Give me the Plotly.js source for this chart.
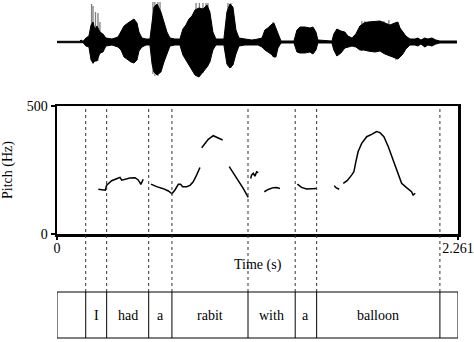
<!DOCTYPE html>
<html>
<head>
<meta charset="utf-8">
<script src="https://cdn.plot.ly/plotly-3.0.1.min.js"></script>
<style>html,body{margin:0;padding:0;background:#fff;}#chart{width:474px;height:342px;}</style>
</head>
<body>
<div id="chart"></div>
<script>
// ---- Data ----
const totalDuration = 2.261;
const pitchMax = 500;

// TextGrid word intervals
const boundaries = [0, 0.162, 0.280, 0.517, 0.648, 1.077, 1.343, 1.464, 2.159, 2.261];
const words = ["", "I", "had", "a", "rabit", "with", "a", "balloon", ""];

// Pitch contour (null = unvoiced gap)
const pitchTime = [
  0.233, 0.272, 0.280, 0.308, 0.336, 0.355, 0.365, 0.383, 0.411, 0.440, 0.458, 0.473, 0.486, null,
  0.530, 0.562, 0.599, 0.628, 0.648, 0.665, 0.684, 0.697, 0.708, 0.731, 0.750, 0.768, 0.787, 0.806, null,
  0.816, 0.834, 0.853, 0.881, 0.909, 0.934, null,
  0.971, 0.994, 1.022, 1.050, 1.078, null,
  1.092, 1.097, 1.107, 1.116, 1.126, 1.135, null,
  1.169, 1.191, 1.219, 1.238, 1.257, null,
  1.355, 1.379, 1.407, 1.436, 1.464, null,
  1.563, 1.573, 1.591, null,
  1.614, 1.636, 1.661, 1.674, 1.685, 1.698, 1.718, 1.746, 1.774, 1.802, 1.821, 1.843, 1.868, 1.896, 1.924, 1.943, 1.971, 1.999, 2.008, 2.020
];
const pitchHz = [
  175, 171, 191, 208, 216, 221, 210, 214, 219, 220, 211, 194, 214, null,
  195, 185, 177, 168, 157, 172, 194, 194, 185, 185, 190, 204, 230, 260, null,
  337, 354, 370, 384, 376, 367, null,
  263, 239, 211, 178, 143, null,
  217, 230, 237, 226, 243, 240, null,
  165, 174, 181, 182, 178, null,
  195, 182, 176, 177, 178, null,
  189, 181, 175, null,
  198, 208, 230, 243, 282, 322, 354, 380, 389, 400, 396, 380, 341, 289, 237, 198, 181, 165, 152, 159
];

// Waveform envelope (arbitrary amplitude units)
const waveTime = [
  0.000, 0.130, 0.135, 0.147, 0.163, 0.180, 0.192, 0.203, 0.214, 0.225, 0.242, 0.259, 0.276, 0.310, 0.344,
  0.361, 0.378, 0.400, 0.417, 0.434, 0.451, 0.462, 0.479, 0.502, 0.524, 0.536, 0.547, 0.564, 0.586, 0.603,
  0.620, 0.637, 0.665, 0.693, 0.710, 0.727, 0.744, 0.761, 0.778, 0.800, 0.823, 0.846, 0.862, 0.879, 0.896,
  0.941, 0.958, 0.975, 0.992, 1.009, 1.026, 1.060, 1.099, 1.133, 1.156, 1.172, 1.189, 1.206, 1.223, 1.234,
  1.246, 1.263, 1.336, 1.353, 1.370, 1.398, 1.426, 1.443, 1.460, 1.471, 1.550, 1.561, 1.578, 1.601, 1.623,
  1.640, 1.663, 1.685, 1.708, 1.731, 1.753, 1.793, 1.821, 1.849, 1.877, 1.905, 1.922, 1.934, 1.950, 1.967,
  1.990, 2.018, 2.035, 2.052, 2.074, 2.091, 2.114, 2.136, 2.159, 2.255
];
const waveTop = [
  0.7, 0.7, 2, 0.7, 4, 6, 17, 20, 12, 16, 10, 8, 4, 3, 5,
  10, 16, 19, 21, 23, 19, 10, 4, 3, 3, 20, 35, 38, 30, 20,
  10, 4, 3, 3, 13, 17, 23, 26, 32, 34, 33, 37, 30, 10, 3,
  3, 30, 38, 35, 12, 4, 3, 2, 3, 4, 12, 14, 17, 19, 14,
  8, 1, 1, 12, 15, 15, 14, 15, 10, 2, 1, 8, 13, 11, 10,
  6, 4, 8, 16, 19, 20, 21, 21, 19, 17, 19, 20, 14, 10, 6,
  3, 3, 4, 2, 4, 3, 4, 2, 1, 1
];
const waveBottom = [
  -0.7, -0.7, -1, -0.7, -4, -5, -18, -21, -19, -19, -11, -10, -4, -3, -5,
  -8, -15, -18, -20, -21, -18, -9, -5, -3, -3, -22, -30, -33, -30, -20,
  -12, -4, -3, -3, -13, -18, -24, -28, -33, -35, -30, -25, -20, -8, -3,
  -3, -22, -26, -23, -12, -4, -3, -3, -3, -5, -8, -10, -12, -15, -15,
  -6, -1, -1, -10, -11, -11, -10, -12, -8, -1, -1, -8, -14, -11, -6,
  -5, -4, -5, -8, -8, -9, -10, -9, -12, -14, -16, -17, -15, -12, -7,
  -3, -3, -4, -2, -5, -3, -4, -2, -1, -1
];

// Gray overshoot spikes in the waveform
const spikeTime = [0.195, 0.203, 0.217, 0.231, 0.242, 0.541, 0.552, 0.569, 0.581, 0.784, 0.803, 0.823, 0.840, 0.851, 0.964, 0.981, 1.218, 1.719, 1.736, 1.843, 1.871, 1.911];
const spikeTop = [38, 36, 30, 29, 20, 40, 40, 40, 40, 39, 39, 39, 39, 39, 39, 39, 20, 21, 21, 21, 22, 20];
const spikeBottom = [-18, -22, -19, -19, -12, -32, -34, -34, -30, -34, -35, -31, -26, -24, -24, -26, -15, -9, -9, -12, -14, -18];

// ---- Build traces ----
const sx = [], sy = [];
spikeTime.forEach((t, i) => { sx.push(t, t, null); sy.push(spikeBottom[i], spikeTop[i], null); });

const traces = [
  {x: sx, y: sy, xaxis: 'x2', yaxis: 'y2', mode: 'lines', line: {color: '#808080', width: 1.3}, hoverinfo: 'skip', showlegend: false},
  {x: waveTime, y: waveTop, xaxis: 'x2', yaxis: 'y2', mode: 'lines', line: {color: '#000', width: 1}, hoverinfo: 'skip', showlegend: false},
  {x: waveTime, y: waveBottom, xaxis: 'x2', yaxis: 'y2', mode: 'lines', fill: 'tonexty', fillcolor: '#000', line: {color: '#000', width: 1}, hoverinfo: 'skip', showlegend: false},
  {x: pitchTime, y: pitchHz, xaxis: 'x', yaxis: 'y', mode: 'lines', connectgaps: false, line: {color: '#000', width: 1.5}, showlegend: false}
];

// ---- Layout geometry (paper fractions) ----
const W = 474, H = 342;
const plotL = 57 / W, plotR = 458 / W;
const pitchBot = (H - 234) / H, pitchTop = (H - 106) / H;
const waveBot = (H - 82) / H, waveTopP = (H - 2) / H;
const gridBot = (H - 338) / H, gridTop = (H - 292) / H;
const serif = 'Liberation Serif, Times New Roman, serif';

const shapes = [];
// dotted boundary lines from pitch top to textgrid top
boundaries.slice(1, -1).forEach(b => {
  shapes.push({type: 'line', xref: 'x', yref: 'paper', x0: b, x1: b, y0: gridTop, y1: pitchTop,
    line: {color: '#333', width: 1, dash: 'dot'}, layer: 'above'});
});
// textgrid box
shapes.push({type: 'rect', xref: 'x', yref: 'paper', x0: boundaries[0], x1: boundaries[boundaries.length - 1], y0: gridBot, y1: gridTop,
  line: {color: '#000', width: 1}});
boundaries.slice(1, -1).forEach(b => {
  shapes.push({type: 'line', xref: 'x', yref: 'paper', x0: b, x1: b, y0: gridBot, y1: gridTop, line: {color: '#000', width: 1}});
});

const annotations = [];
words.forEach((w, i) => {
  if (!w) return;
  annotations.push({text: w, xref: 'x', yref: 'paper', x: (boundaries[i] + boundaries[i + 1]) / 2, y: (gridBot + gridTop) / 2,
    showarrow: false, xanchor: 'center', yanchor: 'middle', font: {family: serif, size: 14, color: '#000'}});
});
annotations.push({text: 'Time (s)', xref: 'paper', yref: 'paper', x: (plotL + plotR) / 2, y: (H - 265) / H,
  showarrow: false, xanchor: 'center', yanchor: 'middle', font: {family: serif, size: 14, color: '#000'}});
annotations.push({text: 'Pitch (Hz)', xref: 'paper', yref: 'paper', x: 8 / W, y: (pitchBot + pitchTop) / 2, textangle: -90,
  showarrow: false, xanchor: 'center', yanchor: 'middle', font: {family: serif, size: 14, color: '#000'}});

const layout = {
  width: W, height: H,
  margin: {l: 0, r: 0, t: 0, b: 0},
  paper_bgcolor: '#fff', plot_bgcolor: '#fff',
  showlegend: false,
  xaxis: {domain: [plotL, plotR], anchor: 'y', range: [0, totalDuration], showgrid: false, zeroline: false,
    showline: true, mirror: true, linecolor: '#000', linewidth: 2.5,
    ticks: 'outside', ticklen: 3, tickwidth: 2, tickcolor: '#000', ticklabelstandoff: -3,
    tickvals: [0, totalDuration], ticktext: ['0', '2.261'], tickfont: {family: serif, size: 14, color: '#000'}},
  yaxis: {domain: [pitchBot, pitchTop], anchor: 'x', range: [0, pitchMax], showgrid: false, zeroline: false,
    showline: true, mirror: true, linecolor: '#000', linewidth: 2.5,
    ticks: 'outside', ticklen: 4, tickwidth: 1.5, tickcolor: '#000',
    tickvals: [0, pitchMax], ticktext: ['0', '500'], tickfont: {family: serif, size: 14, color: '#000'}},
  xaxis2: {domain: [plotL, plotR], anchor: 'y2', range: [0, totalDuration], visible: false},
  yaxis2: {domain: [waveBot, waveTopP], anchor: 'x2', range: [-40, 40], visible: false},
  shapes: shapes,
  annotations: annotations
};

Plotly.newPlot('chart', traces, layout, {displayModeBar: false, staticPlot: true});
</script>
</body>
</html>
